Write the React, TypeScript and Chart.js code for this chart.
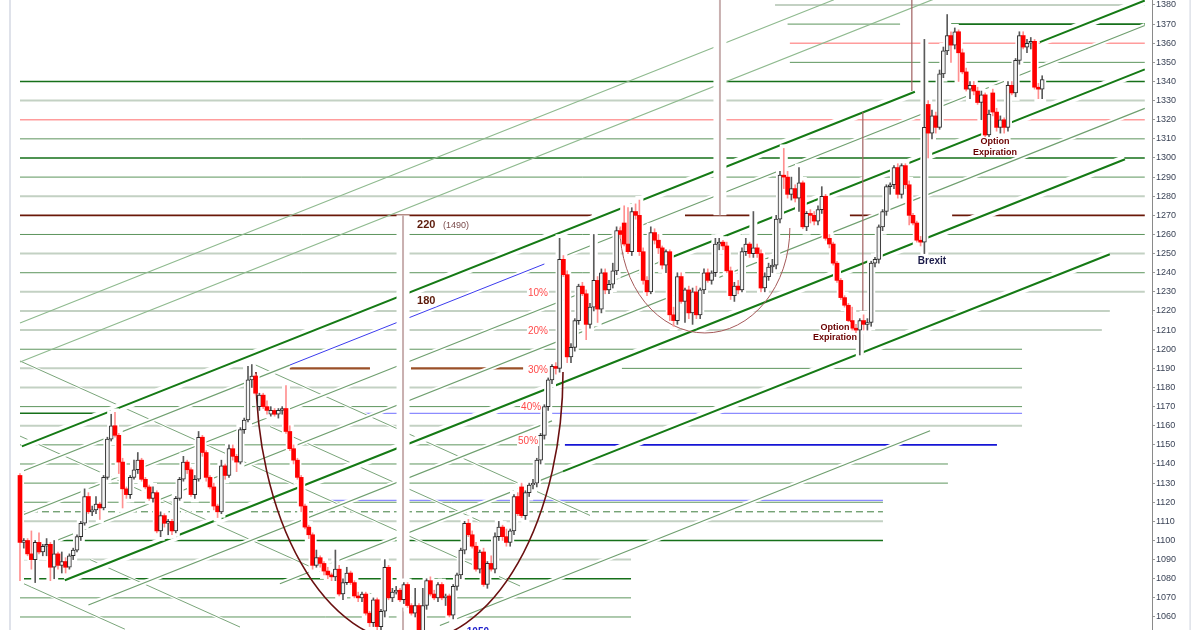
import React, { useEffect, useRef } from "react";
import { Chart, registerables } from "chart.js";

Chart.register(...registerables);

// ---------- candle data (daily bars, index 0 .. 269) ----------
const opens = [
  1134, 1099, 1100, 1093, 1090, 1099, 1094, 1097, 1098, 1086,
  1093, 1087, 1089, 1086, 1092, 1095, 1102, 1109, 1123, 1115,
  1116, 1119, 1117, 1133, 1153, 1160, 1155, 1141, 1127, 1124,
  1133, 1137, 1142, 1132, 1128, 1122, 1125, 1105, 1113, 1109,
  1110, 1105, 1122, 1132, 1141, 1137, 1124, 1132, 1154, 1146,
  1133, 1128, 1118, 1115, 1139, 1134, 1148, 1144, 1141, 1158,
  1163, 1184, 1186, 1170, 1176, 1170, 1166, 1168, 1166, 1168,
  1169, 1157, 1148, 1142, 1133, 1118, 1107, 1103, 1087, 1091,
  1088, 1084, 1082, 1081, 1085, 1072, 1078, 1083, 1078, 1071,
  1070, 1072, 1062, 1057, 1069, 1055, 1063, 1086, 1070, 1073,
  1074, 1069, 1077, 1066, 1062, 1066, 1052, 1066, 1079, 1072,
  1070, 1077, 1070, 1071, 1061, 1076, 1082, 1095, 1109, 1103,
  1097, 1085, 1094, 1077, 1088, 1085, 1102, 1107, 1102, 1099,
  1105, 1123, 1128, 1113, 1125, 1129, 1130, 1142, 1155, 1170,
  1184, 1191, 1190, 1247, 1239, 1196, 1201, 1215, 1233, 1229,
  1213, 1222, 1236, 1221, 1240, 1231, 1234, 1241, 1262, 1266,
  1255, 1251, 1272, 1270, 1251, 1236, 1230, 1261, 1257, 1253,
  1244, 1251, 1218, 1215, 1238, 1225, 1231, 1219, 1230, 1218,
  1231, 1240, 1236, 1240, 1255, 1256, 1254, 1241, 1228, 1233,
  1231, 1251, 1255, 1250, 1253, 1250, 1232, 1238, 1243, 1244,
  1268, 1291, 1290, 1281, 1284, 1279, 1287, 1264, 1271, 1270,
  1267, 1273, 1280, 1258, 1255, 1245, 1236, 1227, 1223, 1215,
  1211, 1210, 1215, 1213, 1214, 1245, 1247, 1264, 1272, 1285,
  1286, 1295, 1281, 1296, 1286, 1270, 1266, 1257, 1256, 1328,
  1313, 1322, 1316, 1344, 1356, 1364, 1359, 1366, 1355, 1345,
  1336, 1338, 1335, 1329, 1333, 1312, 1334, 1324, 1316, 1320,
  1316, 1338, 1334, 1351, 1364, 1358, 1360, 1361, 1337, 1336,
];
const highs = [
  1135, 1101, 1101, 1105, 1100, 1104, 1098, 1101, 1099, 1100,
  1094, 1094, 1091, 1093, 1096, 1103, 1110, 1127, 1125, 1118,
  1123, 1120, 1134, 1154, 1166, 1167, 1156, 1143, 1128, 1134,
  1142, 1146, 1143, 1133, 1129, 1128, 1126, 1115, 1114, 1111,
  1111, 1123, 1133, 1144, 1142, 1138, 1134, 1157, 1155, 1147,
  1134, 1130, 1119, 1142, 1140, 1150, 1150, 1145, 1159, 1164,
  1191, 1192, 1187, 1177, 1177, 1173, 1170, 1169, 1169, 1170,
  1181, 1160, 1150, 1143, 1134, 1119, 1108, 1104, 1095, 1092,
  1089, 1086, 1083, 1095, 1087, 1080, 1086, 1084, 1079, 1073,
  1073, 1073, 1063, 1070, 1070, 1064, 1090, 1087, 1075, 1076,
  1075, 1078, 1078, 1067, 1075, 1067, 1075, 1080, 1081, 1074,
  1078, 1078, 1072, 1072, 1077, 1083, 1096, 1110, 1111, 1105,
  1099, 1095, 1096, 1089, 1092, 1104, 1110, 1108, 1106, 1106,
  1124, 1125, 1130, 1126, 1130, 1132, 1143, 1156, 1171, 1185,
  1192, 1193, 1258, 1249, 1241, 1203, 1216, 1234, 1235, 1231,
  1224, 1260, 1238, 1242, 1242, 1236, 1245, 1264, 1264, 1275,
  1274, 1274, 1276, 1278, 1253, 1238, 1264, 1263, 1260, 1254,
  1252, 1252, 1222, 1240, 1240, 1232, 1233, 1232, 1233, 1232,
  1242, 1242, 1241, 1258, 1258, 1257, 1256, 1243, 1235, 1236,
  1253, 1258, 1256, 1272, 1255, 1252, 1240, 1245, 1247, 1270,
  1293, 1305, 1293, 1290, 1286, 1295, 1288, 1272, 1273, 1272,
  1275, 1285, 1281, 1260, 1256, 1246, 1237, 1228, 1224, 1222,
  1213, 1216, 1218, 1216, 1246, 1248, 1265, 1273, 1286, 1287,
  1296, 1297, 1297, 1297, 1288, 1271, 1267, 1259, 1362, 1330,
  1325, 1324, 1346, 1358, 1375, 1366, 1368, 1367, 1357, 1347,
  1340, 1340, 1337, 1335, 1334, 1325, 1336, 1326, 1322, 1321,
  1340, 1340, 1352, 1366, 1366, 1362, 1363, 1362, 1339, 1343,
];
const lows = [
  1079, 1096, 1092, 1085, 1078, 1093, 1092, 1092, 1079, 1080,
  1085, 1083, 1083, 1085, 1090, 1094, 1100, 1108, 1114, 1113,
  1114, 1111, 1116, 1132, 1152, 1154, 1135, 1117, 1122, 1122,
  1132, 1135, 1131, 1127, 1121, 1120, 1104, 1102, 1107, 1103,
  1103, 1104, 1121, 1131, 1135, 1123, 1122, 1131, 1144, 1131,
  1127, 1116, 1112, 1114, 1132, 1133, 1142, 1136, 1140, 1156,
  1162, 1180, 1176, 1168, 1169, 1166, 1165, 1165, 1164, 1166,
  1156, 1147, 1140, 1132, 1115, 1106, 1101, 1085, 1086, 1086,
  1082, 1080, 1079, 1079, 1071, 1069, 1077, 1077, 1070, 1068,
  1068, 1061, 1055, 1055, 1048, 1050, 1060, 1069, 1068, 1072,
  1068, 1067, 1065, 1061, 1060, 1046, 1048, 1064, 1071, 1069,
  1068, 1069, 1066, 1060, 1059, 1074, 1080, 1093, 1102, 1096,
  1084, 1083, 1076, 1075, 1084, 1083, 1100, 1100, 1097, 1097,
  1103, 1113, 1112, 1111, 1123, 1127, 1128, 1140, 1153, 1168,
  1182, 1187, 1188, 1238, 1193, 1193, 1199, 1213, 1228, 1205,
  1211, 1220, 1214, 1219, 1229, 1229, 1232, 1239, 1258, 1254,
  1250, 1249, 1268, 1249, 1234, 1228, 1229, 1255, 1250, 1242,
  1240, 1215, 1212, 1213, 1224, 1214, 1216, 1213, 1216, 1216,
  1229, 1235, 1234, 1238, 1252, 1252, 1240, 1226, 1225, 1229,
  1230, 1249, 1248, 1248, 1248, 1230, 1230, 1236, 1240, 1242,
  1266, 1284, 1279, 1278, 1277, 1272, 1263, 1262, 1266, 1265,
  1265, 1271, 1257, 1253, 1244, 1235, 1226, 1222, 1214, 1210,
  1205, 1197, 1210, 1210, 1212, 1243, 1245, 1262, 1270, 1281,
  1284, 1279, 1279, 1284, 1265, 1265, 1256, 1254, 1250, 1300,
  1310, 1313, 1315, 1342, 1354, 1350, 1357, 1340, 1344, 1335,
  1331, 1333, 1328, 1320, 1311, 1310, 1322, 1314, 1313, 1313,
  1314, 1333, 1332, 1349, 1357, 1355, 1357, 1336, 1331, 1331,
];
const closes = [
  1099, 1100, 1093, 1090, 1099, 1094, 1097, 1098, 1086, 1093,
  1087, 1089, 1086, 1092, 1095, 1102, 1109, 1123, 1115, 1116,
  1119, 1117, 1133, 1153, 1160, 1155, 1141, 1127, 1124, 1133,
  1137, 1142, 1132, 1128, 1122, 1125, 1105, 1113, 1109, 1110,
  1105, 1122, 1132, 1141, 1137, 1124, 1132, 1154, 1146, 1133,
  1128, 1118, 1115, 1139, 1134, 1148, 1144, 1141, 1158, 1163,
  1184, 1186, 1177, 1176, 1170, 1168, 1168, 1166, 1168, 1169,
  1157, 1148, 1142, 1133, 1118, 1107, 1103, 1087, 1091, 1088,
  1084, 1082, 1081, 1085, 1072, 1078, 1083, 1078, 1071, 1070,
  1072, 1062, 1057, 1069, 1055, 1063, 1086, 1070, 1073, 1074,
  1069, 1077, 1066, 1062, 1066, 1052, 1066, 1079, 1072, 1070,
  1077, 1070, 1071, 1061, 1076, 1082, 1095, 1109, 1103, 1097,
  1085, 1094, 1077, 1088, 1085, 1102, 1107, 1102, 1099, 1105,
  1123, 1114, 1113, 1125, 1129, 1130, 1142, 1155, 1170, 1184,
  1191, 1190, 1247, 1239, 1196, 1201, 1215, 1233, 1229, 1213,
  1222, 1236, 1221, 1240, 1231, 1234, 1241, 1262, 1260, 1255,
  1251, 1272, 1270, 1251, 1236, 1230, 1261, 1257, 1253, 1244,
  1251, 1218, 1215, 1238, 1225, 1231, 1219, 1230, 1218, 1231,
  1240, 1236, 1240, 1255, 1256, 1254, 1241, 1228, 1233, 1231,
  1251, 1255, 1250, 1253, 1250, 1232, 1238, 1243, 1244, 1268,
  1291, 1290, 1281, 1284, 1279, 1287, 1264, 1271, 1270, 1267,
  1273, 1280, 1258, 1255, 1245, 1236, 1227, 1223, 1215, 1211,
  1210, 1215, 1213, 1214, 1245, 1247, 1264, 1272, 1285, 1286,
  1295, 1281, 1296, 1286, 1270, 1266, 1257, 1256, 1316, 1313,
  1322, 1316, 1344, 1356, 1364, 1359, 1366, 1355, 1345, 1336,
  1338, 1335, 1329, 1333, 1312, 1323, 1324, 1316, 1320, 1316,
  1338, 1334, 1351, 1364, 1358, 1360, 1361, 1337, 1336, 1341,
];

// ---------- axis ----------
const priceMin = 1053.2;
const priceMax = 1382.6;
const priceStep = 10;
const barMin = -2.63;
const barMax = 297.9;

// ---------- drawn annotations (data units: bar index, price) ----------
// horizontal levels: [price, fromBar, toBar, style]
const levelLines: [number, number, number, string][] = [
  [1380, 198.7, 296, "lt"],
  [1370, 202, 231.6, "md"], [1370, 244.7, 296, "dk"],
  [1360, 202.6, 296, "pk"],
  [1350, 202.6, 296, "md"],
  [1340, 0, 296, "dk"], [1330, 0, 296, "lt"], [1320, 0, 296, "pk"], [1310, 0, 296, "md"],
  [1300, 0, 296, "dk"], [1290, 0, 296, "md"], [1280, 0, 296, "lt"],
  [1270, 0, 150.5, "br"], [1270, 175, 192.1, "br"], [1270, 218.4, 224.2, "br"], [1270, 245.3, 296, "br"],
  [1260, 0, 296, "md"], [1250, 0, 296, "lt"], [1240, 0, 296, "md"], [1230, 0, 296, "lt"],
  [1220, 0, 286.8, "lt"], [1210, 0, 284.7, "lt"], [1200, 0, 263.7, "md"],
  [1190, 0, 58.7, "lt"], [1190, 71, 92.1, "bn"], [1190, 102.9, 132.4, "bn"], [1190, 158.4, 263.7, "md"],
  [1180, 0, 263.7, "lt"], [1170, 0, 263.7, "md"],
  [1166.5, 0, 20.3, "dk"], [1166.5, 90.8, 263.7, "bl"],
  [1160, 0, 263.7, "lt"],
  [1150, 0, 142, "md"], [1150, 143.4, 257.1, "bd"],
  [1140, 0, 244.2, "md"], [1130, 0, 244.2, "md"],
  [1121, 81.6, 227.1, "bl"], [1120, 0, 227.1, "md"], [1115, 0, 227.1, "dash"],
  [1110, 0, 227.1, "lt"], [1100, 0, 227.1, "dk"],
  [1090, 0, 160.8, "lt"], [1080, 0, 160.8, "dk"], [1070, 0, 160.8, "md"], [1060, 0, 160.8, "md"],
];
// rising parallel trend lines: [price at bar 0, fromBar, toBar, style]
const riseSlope = 0.789;
const riseLines: [number, number, number, string][] = [
  [1213.7, 0, 214.2, "tn"],
  [1193.3, 0, 241.3, "tn"],
  [1148.8, 0.5, 235.5, "tk"], [1148.8, 268.4, 296, "tk"],
  [1135.7, 0, 71, "th"], [1135.7, 71, 138, "tb"], [1135.7, 142, 296, "th"],
  [1112.8, 0, 168, "th"], [1112.8, 168, 296, "tk"],
  [1092.4, 0, 296, "th"],
  [1069.9, 11.8, 290.8, "tk"],
  [1052.1, 18, 140, "th"],
  [1023.4, 68.4, 142.9, "th"], [1023.4, 142.9, 286.8, "tk"],
  [968.4, 110.5, 239.5, "th"],
];
// falling trend lines: [price at bar 0, fromBar, toBar]
const fallSlope = -0.894;
const fallLines: [number, number, number][] = [
  [1193.85, 0, 131.6],
  [1154.6, 0, 94.7],
  [1078.3, 0, 27.6],
  [1106.5, 18.4, 57.9],
  [1247.2, 61.8, 150],
  [1218.4, 65.8, 121],
];
// vertical markers: [bar, fromPrice, toPrice, style]
const verticalLines: [number, number, number, string][] = [
  [100.8, 1270, 1053.2, "vl"],
  [184.2, 1382.6, 1270, "vl"],
  [221.8, 1324, 1197, "vd"],
  [234.7, 1382.6, 1335, "vd"],
];
// cup arcs: [leftBar, rightBar, rimPrice, bottomPrice, colour, width]
const cups: [number, number, number, number, string, number][] = [
  [62.1, 142.9, 1188.1, 1046.9, "#6a1010", 1.6],
  [157.9, 202.6, 1263.4, 1208.5, "#a55a5a", 1],
];
// text notes: [text, bar, price, colour, font, align]
const notes: [string, number, number, string, string, CanvasTextAlign][] = [
  ["220", 104.5, 1264.9, "#5c1a0a", "bold 11px", "left"],
  ["(1490)", 111.3, 1264.9, "#7a4a4a", "9px", "left"],
  ["180", 104.5, 1225, "#5c1a0a", "bold 11px", "left"],
  ["10%", 136.3, 1229.4, "#ff4a4a", "10px", "center"],
  ["20%", 136.3, 1209.5, "#ff4a4a", "10px", "center"],
  ["30%", 136.3, 1189.1, "#ff4a4a", "10px", "center"],
  ["40%", 134.5, 1169.8, "#ff4a4a", "10px", "center"],
  ["50%", 133.7, 1152.0, "#ff4a4a", "10px", "center"],
  ["Brexit", 240, 1246.1, "#1c1c4a", "bold 10px", "center"],
  ["Option", 214.5, 1211.6, "#6a0000", "bold 9px", "center"],
  ["Expiration", 214.5, 1205.9, "#6a0000", "bold 9px", "center"],
  ["Option", 256.6, 1308.4, "#6a0000", "bold 9px", "center"],
  ["Expiration", 256.6, 1303.1, "#6a0000", "bold 9px", "center"],
  ["1050", 120.5, 1052.0, "#2222cc", "bold 10px", "center"],
];

const FONT = '"Liberation Sans", Arial, sans-serif';

const STYLE: Record<string, { color: string; width: number; halo?: number; dash?: number[]; order: number }> = {
  dk: { color: "#16701a", width: 1.6, order: 100 },
  md: { color: "#5d955d", width: 1, order: 100 },
  lt: { color: "#c3d1c3", width: 2, order: 100 },
  pk: { color: "#ff9c9c", width: 1.4, order: 100 },
  br: { color: "#6a1808", width: 1.6, order: 100 },
  bn: { color: "#9a5028", width: 2.2, order: 100 },
  bl: { color: "#8c8cff", width: 1.2, order: 100 },
  bd: { color: "#1515d5", width: 1.6, order: 100 },
  dash: { color: "#3d7d3d", width: 1, dash: [7, 4], order: 100 },
  dn: { color: "#7aa57a", width: 1, halo: 3, order: 90 },
  tn: { color: "#8fba8f", width: 1.2, order: 85 },
  th: { color: "#6f9f6f", width: 1.2, halo: 5, order: 80 },
  tb: { color: "#3b3bee", width: 1, halo: 5, order: 80 },
  tk: { color: "#157a15", width: 2, halo: 9, order: 75 },
  vl: { color: "#c9b0b0", width: 2, halo: 13, order: 70 },
  vd: { color: "#a06060", width: 1.2, order: 70 },
};

export default function App() {
  const ref = useRef<HTMLCanvasElement>(null);

  useEffect(() => {
    document.body.style.margin = "0";
    const canvas = ref.current!;
    const n = opens.length;
    const idx = opens.map((_, i) => i);
    const up = idx.map((i) => closes[i] >= opens[i]);

    const datasets: any[] = [];
    datasets.push({
      type: "bar",
      data: idx.map((i) => ({ x: i, y: [lows[i], highs[i]] })),
      backgroundColor: idx.map((i) => (up[i] ? "#5a5a5a" : "#ff9090")),
      barThickness: 1,
      grouped: false,
      order: 2,
    });
    datasets.push({
      type: "bar",
      data: idx.map((i) => ({ x: i, y: [Math.min(opens[i], closes[i]), Math.max(opens[i], closes[i])] })),
      backgroundColor: idx.map((i) => (up[i] ? "#f4f4f4" : "#ff0000")),
      borderColor: idx.map((i) => (up[i] ? "#2a2a2a" : "#ff0000")),
      borderWidth: idx.map((i) => (up[i] ? 1 : 0)),
      borderSkipped: false,
      barThickness: 4,
      minBarLength: 1,
      grouped: false,
      order: 1,
    });

    const groups: Record<string, number[][]> = {};
    const add = (s: string, seg: number[]) => {
      (groups[s] = groups[s] || []).push(seg);
    };
    levelLines.forEach(([v, a, b, s]) => add(s, [a, v, b, v]));
    riseLines.forEach(([base, a, b, s]) => add(s, [a, base + riseSlope * a, b, base + riseSlope * b]));
    fallLines.forEach(([base, a, b]) => add("dn", [a, base + fallSlope * a, b, base + fallSlope * b]));
    verticalLines.forEach(([i, v1, v2, s]) => add(s, [i, v1, i, v2]));

    Object.keys(groups).forEach((s) => {
      const st = STYLE[s];
      const pts: any[] = [];
      groups[s].forEach(([x1, y1, x2, y2]) => {
        pts.push({ x: x1, y: y1 }, { x: x2, y: y2 }, { x: x2, y: null });
      });
      const base = { type: "line", pointRadius: 0, tension: 0, fill: false, spanGaps: false, borderCapStyle: "butt" };
      if (st.halo) {
        datasets.push({ ...base, data: pts, borderColor: "#ffffff", borderWidth: st.halo, order: st.order + 0.5 });
      }
      datasets.push({ ...base, data: pts, borderColor: st.color, borderWidth: st.width, borderDash: st.dash || [], order: st.order });
    });

    const decor = {
      id: "decor",
      beforeDatasetDraw(chart: any, args: any) {
        if (args.index !== 0) return;
        const { ctx, chartArea: a, scales } = chart;
        const x = scales.x, y = scales.y;
        ctx.save();
        ctx.beginPath();
        ctx.rect(a.left, a.top, a.right - a.left, a.bottom - a.top);
        ctx.clip();
        ctx.fillStyle = "#ffffff";
        for (let i = 0; i < n; i++) {
          const px = x.getPixelForValue(i);
          const t = y.getPixelForValue(highs[i]) - 4;
          const b = y.getPixelForValue(lows[i]) + 4;
          ctx.fillRect(px - 4, t, 8, b - t);
        }
        cups.forEach(([l, r, rim, bottom, color, w]) => {
          const xl = x.getPixelForValue(l), xr = x.getPixelForValue(r);
          const yt = y.getPixelForValue(rim), yb = y.getPixelForValue(bottom);
          ctx.beginPath();
          ctx.ellipse((xl + xr) / 2, yt, (xr - xl) / 2, yb - yt, 0, 0, Math.PI);
          ctx.strokeStyle = color;
          ctx.lineWidth = w;
          ctx.stroke();
        });
        ctx.restore();
      },
      afterDatasetsDraw(chart: any) {
        const { ctx, scales } = chart;
        const x = scales.x, y = scales.y;
        ctx.save();
        notes.forEach(([text, bar, price, color, font, align]) => {
          ctx.font = `${font} ${FONT}`;
          ctx.textAlign = align;
          ctx.textBaseline = "middle";
          const px = x.getPixelForValue(bar), py = y.getPixelForValue(price);
          const w = ctx.measureText(text).width;
          const left = align === "center" ? px - w / 2 : px;
          ctx.fillStyle = "#ffffff";
          ctx.fillRect(left - 1, py - 5, w + 2, 10);
          ctx.fillStyle = color;
          ctx.fillText(text, px, py);
        });
        ctx.restore();
      },
      afterDraw(chart: any) {
        const { ctx } = chart;
        ctx.save();
        ctx.fillStyle = "#dfe2ea";
        ctx.fillRect(9, 0, 2, chart.height);
        ctx.fillStyle = "#d6dae3";
        ctx.fillRect(1189.5, 0, 1.2, chart.height);
        ctx.restore();
      },
    };

    const chart = new Chart(canvas, {
      type: "bar",
      data: { datasets },
      options: {
        animation: false,
        responsive: false,
        devicePixelRatio: 1,
        events: [],
        layout: { padding: { left: 10, right: 10, top: 0, bottom: 0 } },
        plugins: { legend: { display: false }, tooltip: { enabled: false } },
        scales: {
          x: { type: "linear", min: barMin, max: barMax, display: false, offset: false, grid: { offset: false } },
          y: {
            position: "right",
            min: priceMin,
            max: priceMax,
            afterFit(s: any) {
              s.width = 38;
              s.paddingTop = 0;
              s.paddingBottom = 0;
            },
            ticks: {
              stepSize: priceStep,
              includeBounds: false,
              autoSkip: false,
              color: "#3a4356",
              padding: 1,
              font: { size: 9, family: FONT },
              callback: (v: any) => String(v),
            },
            grid: { drawOnChartArea: false, drawTicks: true, tickLength: 3, color: "#9a9a9a" },
            border: { display: true, color: "#8a8a8a", width: 1 },
          },
        },
      } as any,
      plugins: [decor],
    });
    return () => chart.destroy();
  }, []);

  return (
    <div style={{ position: "fixed", left: 0, top: 0, width: 1200, height: 630, background: "#ffffff" }}>
      <canvas ref={ref} width={1200} height={630} style={{ display: "block", width: 1200, height: 630 }} />
    </div>
  );
}
